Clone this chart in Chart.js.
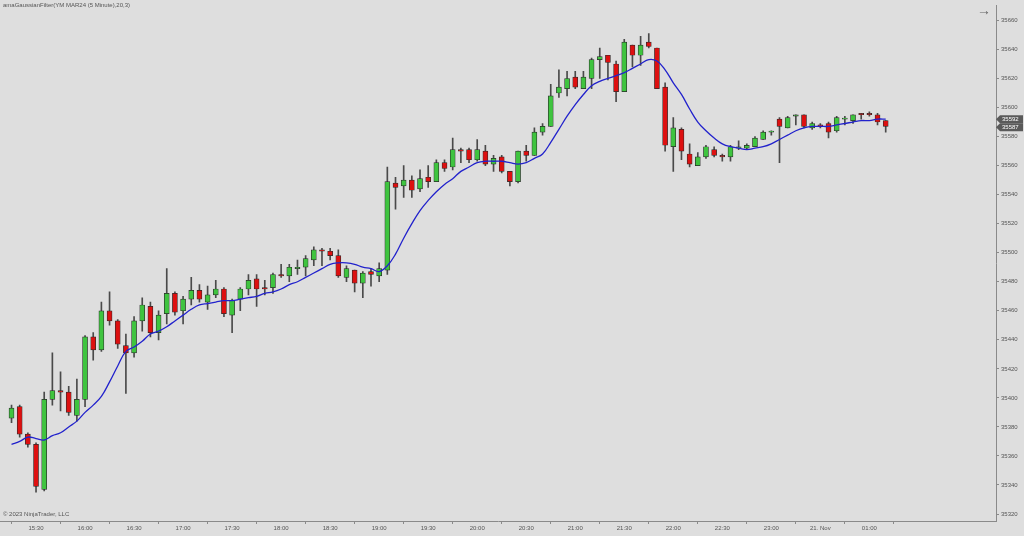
<!DOCTYPE html>
<html><head><meta charset="utf-8">
<script src="https://cdn.jsdelivr.net/npm/chart.js@4.4.1/dist/chart.umd.min.js"></script>
<style>html,body{margin:0;padding:0;background:#dedede;}#w{position:relative;width:1024px;height:536px;}
.t{position:absolute;font-family:"Liberation Sans",Arial,sans-serif;color:#555;font-size:6px;}
</style></head><body><div id="w"><canvas id="c" width="1024" height="536"></canvas>
<div class="t" style="left:3px;top:2px">amaGaussianFilter(YM MAR24 (5 Minute),20,3)</div>
<div class="t" style="left:3px;top:511px">© 2023 NinjaTrader, LLC</div>
<div class="t" style="left:977px;top:2px;font-size:14px;color:#666">→</div>
</div>
<script>
const opens  = [35386,35394,35375,35368,35337,35399,35405,35404,35388,35399,35442,35433,35460,35453,35436,35431,35453,35463,35445,35458,35472,35460,35468,35474,35466,35471,35475,35457,35468,35475,35482,35476,35476,35485,35484,35489,35490,35495,35502,35501,35498,35483,35488,35479,35487,35484,35488,35548,35546,35550,35544,35552,35549,35562,35559,35571,35571,35564,35570,35561,35566,35556,35549,35570,35567,35583,35587,35610,35613,35621,35613,35620,35633,35636,35630,35611,35643,35636,35645,35641,35614,35573,35585,35568,35560,35566,35571,35567,35566,35572,35572,35573,35578,35583,35592,35586,35594,35595,35586,35588,35589,35584,35592,35591,35596,35596,35595,35591];
const highs  = [35395,35395,35376,35369,35404,35431,35418,35408,35413,35443,35445,35466,35473,35454,35444,35456,35469,35466,35460,35489,35473,35470,35483,35478,35477,35481,35476,35468,35476,35485,35485,35481,35486,35492,35492,35495,35498,35504,35503,35503,35502,35491,35488,35487,35489,35493,35559,35552,35560,35553,35557,35560,35564,35564,35579,35572,35572,35578,35574,35567,35567,35556,35570,35574,35586,35589,35616,35626,35625,35625,35625,35634,35641,35636,35632,35647,35643,35649,35651,35641,35617,35593,35586,35575,35569,35574,35573,35568,35574,35577,35575,35580,35584,35584,35593,35594,35595,35595,35590,35589,35590,35594,35594,35595,35596,35597,35596,35591];
const lows   = [35383,35373,35366,35335,35336,35395,35391,35388,35384,35394,35426,35432,35450,35434,35403,35428,35446,35442,35440,35451,35457,35451,35464,35466,35461,35469,35456,35445,35460,35471,35463,35471,35472,35483,35480,35485,35484,35491,35491,35495,35483,35480,35473,35469,35477,35480,35485,35530,35538,35538,35542,35545,35549,35556,35557,35562,35562,35563,35560,35556,35555,35546,35548,35563,35567,35581,35587,35607,35608,35613,35613,35613,35620,35619,35604,35611,35628,35629,35641,35613,35570,35556,35564,35559,35560,35565,35566,35563,35563,35571,35571,35573,35578,35581,35562,35586,35588,35586,35585,35586,35579,35583,35588,35589,35592,35594,35588,35583];
const closes = [35393,35375,35368,35339,35399,35405,35404,35390,35399,35442,35433,35460,35453,35437,35431,35453,35464,35445,35457,35472,35459,35468,35474,35468,35471,35475,35458,35467,35475,35481,35475,35475,35485,35484,35490,35490,35496,35502,35501,35498,35484,35489,35479,35486,35485,35489,35549,35545,35550,35543,35551,35549,35562,35558,35571,35570,35564,35571,35561,35565,35556,35549,35570,35567,35583,35587,35608,35614,35620,35614,35621,35633,35635,35631,35611,35645,35636,35643,35642,35613,35574,35586,35570,35561,35566,35573,35567,35566,35573,35573,35574,35579,35583,35583,35587,35593,35595,35587,35589,35587,35583,35593,35592,35595,35595,35595,35590,35587];
const gaussian = [35368,35370,35373,35372,35371,35374,35376,35380,35384,35390,35395,35401,35411,35422,35432,35435,35439,35444,35446,35449,35453,35457,35461,35464,35465,35466,35467,35467,35468,35469,35470,35472,35473,35475,35478,35480,35483,35486,35489,35492,35493,35493,35492,35490,35489,35487,35491,35499,35510,35520,35529,35536,35542,35547,35551,35556,35559,35562,35563,35563,35563,35562,35561,35562,35565,35568,35576,35585,35594,35602,35609,35615,35618,35620,35622,35624,35627,35630,35633,35632,35626,35617,35609,35599,35590,35584,35579,35575,35573,35572,35571,35572,35573,35575,35578,35581,35584,35586,35587,35587,35587,35588,35589,35590,35591,35591,35592,35592];
const tickIndex  = [3,9,15,21,27,33,39,45,51,57,63,69,75,81,87,93,99,105];
const tickLabels = ["15:30","16:00","16:30","17:00","17:30","18:00","18:30","19:00","19:30","20:00","20:30","21:00","21:30","22:00","22:30","23:00","21. Nov","01:00"];
const yTicks = [35320,35340,35360,35380,35400,35420,35440,35460,35480,35500,35520,35540,35560,35580,35600,35620,35640,35660];

const GREEN='#3fc43f', RED='#dd1010';
const wicks = opens.map((o,i)=>({x:i,y:[lows[i],highs[i]]}));
const bodies = opens.map((o,i)=>({x:i,y:[Math.min(o,closes[i]),Math.max(o,closes[i])]}));
const bodyColors = opens.map((o,i)=>closes[i]>=o?GREEN:RED);
const line = gaussian.map((g,i)=>({x:i,y:g}));

const priceTags = {id:'tags',afterDraw(ch){
  const c=ch.ctx, ys=ch.scales.y, x0=ch.chartArea.right;
  const tags=[[gaussian[gaussian.length-1],'#5a5a5a'],[closes[closes.length-1],'#5a5a5a']];
  c.save(); c.font='6px "Liberation Sans",Arial'; c.textBaseline='middle';
  tags.forEach(([v,col],k)=>{
    let y=ys.getPixelForValue(v); if(k==1) y=Math.max(y,ys.getPixelForValue(tags[0][0])+8);
    c.fillStyle=col; c.beginPath(); c.moveTo(x0,y); c.lineTo(x0+4,y-4); c.lineTo(x0+27,y-4); c.lineTo(x0+27,y+4); c.lineTo(x0+4,y+4); c.closePath(); c.fill();
    c.fillStyle='#fff'; c.fillText(String(v),x0+6,y+0.5);
  });
  c.restore();
}};

new Chart(document.getElementById('c'),{
  data:{datasets:[
    {type:'line',data:line,borderColor:'#2222cc',borderWidth:1.3,pointRadius:0,tension:0.4,order:0},
    {type:'bar',data:wicks,backgroundColor:'#4a4a4a',barThickness:1,order:2},
    {type:'bar',data:bodies,backgroundColor:bodyColors,borderColor:'#2a2a2a',borderWidth:0.7,barThickness:5,minBarLength:1,borderSkipped:false,order:1}
  ]},
  options:{responsive:false,animation:false,devicePixelRatio:1,
    layout:{padding:0},
    plugins:{legend:{display:false},tooltip:{enabled:false}},
    datasets:{bar:{grouped:false}},
    scales:{
      x:{type:'linear',min:-1.41,max:120.5,offset:false,
        grid:{drawOnChartArea:false,drawTicks:true,tickLength:3,color:'#8a8a8a'},
        border:{color:'#8a8a8a'},
        afterBuildTicks(s){s.ticks=tickIndex.map(v=>({value:v}));},
        afterFit(s){s.height=15;},
        ticks:{autoSkip:false,maxRotation:0,color:'#555',font:{size:6,family:'Liberation Sans'},padding:1,
          callback(v){const k=tickIndex.indexOf(v);return k>=0?tickLabels[k]:'';}}},
      y:{position:'right',min:35315.2,max:35670.2,
        grid:{drawOnChartArea:false,drawTicks:true,tickLength:3,color:'#8a8a8a'},border:{color:'#8a8a8a'},
        afterBuildTicks(s){s.ticks=yTicks.map(v=>({value:v}));},
        afterFit(s){s.width=28;},
        ticks:{color:'#555',font:{size:6,family:'Liberation Sans'},padding:2,callback:v=>String(v)}}
    }},
  plugins:[priceTags]
});
</script></body></html>
